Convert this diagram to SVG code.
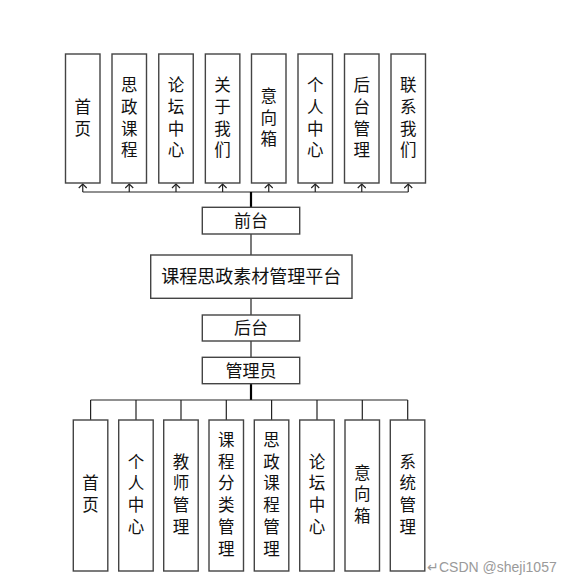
<svg xmlns="http://www.w3.org/2000/svg" width="572" height="584" viewBox="0 0 572 584">
<style>
.box{fill:#fff;stroke:#444;stroke-width:1.4}
.t{font-family:"Noto Sans CJK SC","Noto Sans",sans-serif;font-size:17px;fill:#111;text-anchor:middle}
.v{font-family:"Noto Sans CJK SC","Noto Sans",sans-serif;font-size:16.5px;fill:#111;text-anchor:middle;writing-mode:vertical-rl;text-orientation:upright;letter-spacing:5.2px}
.ln{stroke:#222;stroke-width:1.2;fill:none}
.bold{stroke:#000;stroke-width:2.2;fill:none}
.wm{font-family:"Liberation Sans",Arial,sans-serif;font-size:14px;fill:#9a9a9a}
</style>
<rect width="572" height="584" fill="#fff"/>
<g id="connectors">
<path class="ln" d="M82.75 192H408.25"/>
<path class="ln" d="M82.75 192V184M129.25 192V184M176 192V184M222.6 192V184M268.75 192V184M315.25 192V184M361.75 192V184M408.25 192V184"/>
<path class="ln" d="M78.75 188L82.75 184L86.75 188M125.25 188L129.25 184L133.25 188M172 188L176 184L180 188M218.6 188L222.6 184L226.6 188M264.75 188L268.75 184L272.75 188M311.25 188L315.25 184L319.25 188M357.75 188L361.75 184L365.75 188M404.25 188L408.25 184L412.25 188"/>
<path class="bold" d="M251 192V207"/>
<path class="ln" d="M251 234V255M251 298V315M251 341V357"/>
<path class="bold" d="M251 384V400"/>
<path class="ln" d="M90.6 400H407.7"/>
<path class="ln" d="M90.6 400V420M136 400V420M181 400V420M226.3 400V420M271.6 400V420M317 400V420M362.3 400V420M407.7 400V420"/>
</g>
<g id="top-1"><rect class="box" x="65.5" y="54" width="34.5" height="129"/><text class="v" x="82.75" y="120.1">首页</text></g>
<g id="top-2"><rect class="box" x="112" y="54" width="34.5" height="129"/><text class="v" x="129.25" y="120.1">思政课程</text></g>
<g id="top-3"><rect class="box" x="158.75" y="54" width="34.5" height="129"/><text class="v" x="176" y="120.1">论坛中心</text></g>
<g id="top-4"><rect class="box" x="205.35" y="54" width="34.5" height="129"/><text class="v" x="222.6" y="120.1">关于我们</text></g>
<g id="top-5"><rect class="box" x="251.5" y="54" width="34.5" height="129"/><text class="v" x="268.75" y="120.1">意向箱</text></g>
<g id="top-6"><rect class="box" x="298" y="54" width="34.5" height="129"/><text class="v" x="315.25" y="120.1">个人中心</text></g>
<g id="top-7"><rect class="box" x="344.5" y="54" width="34.5" height="129"/><text class="v" x="361.75" y="120.1">后台管理</text></g>
<g id="top-8"><rect class="box" x="391" y="54" width="34.5" height="129"/><text class="v" x="408.25" y="120.1">联系我们</text></g>
<g id="front"><rect class="box" x="202.3" y="207.3" width="97.4" height="26.7"/><text class="t" x="251" y="226.5">前台</text></g>
<g id="platform"><rect class="box" x="150.7" y="255" width="201.3" height="43.3"/><text class="t" x="251.3" y="282.7" style="font-size:18px">课程思政素材管理平台</text></g>
<g id="back"><rect class="box" x="202.3" y="315" width="97.4" height="26"/><text class="t" x="251" y="334">后台</text></g>
<g id="admin"><rect class="box" x="202.3" y="357.3" width="97.4" height="26.4"/><text class="t" x="251" y="376.5">管理员</text></g>
<g id="bot-1"><rect class="box" x="73.3" y="420" width="34.5" height="151"/><text class="v" x="90.6" y="496.6">首页</text></g>
<g id="bot-2"><rect class="box" x="118.7" y="420" width="34.5" height="151"/><text class="v" x="136" y="496.6">个人中心</text></g>
<g id="bot-3"><rect class="box" x="163.7" y="420" width="34.5" height="151"/><text class="v" x="181" y="496.6">教师管理</text></g>
<g id="bot-4"><rect class="box" x="209" y="420" width="34.5" height="151"/><text class="v" x="226.3" y="496.6">课程分类管理</text></g>
<g id="bot-5"><rect class="box" x="254.3" y="420" width="34.5" height="151"/><text class="v" x="271.6" y="496.6">思政课程管理</text></g>
<g id="bot-6"><rect class="box" x="299.7" y="420" width="34.5" height="151"/><text class="v" x="317" y="496.6">论坛中心</text></g>
<g id="bot-7"><rect class="box" x="345" y="420" width="34.5" height="151"/><text class="v" x="362.3" y="496.6">意向箱</text></g>
<g id="bot-8"><rect class="box" x="390.3" y="420" width="34.5" height="151"/><text class="v" x="407.7" y="496.6">系统管理</text></g>
<text class="wm" x="427" y="571.5">↵CSDN @sheji1057</text>
</svg>
